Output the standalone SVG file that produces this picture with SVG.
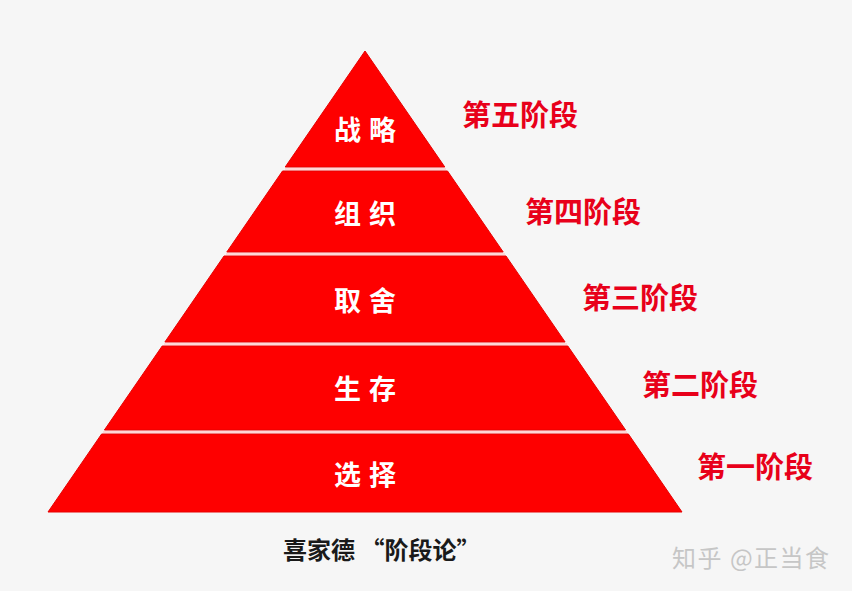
<svg xmlns="http://www.w3.org/2000/svg" width="852" height="591" viewBox="0 0 852 591">
<style>
.layer{fill:#fe0000;stroke:#e80000;stroke-width:1}
.sep{stroke:#ffd6d6;stroke-width:2}
.in{font-family:"Noto Sans CJK SC",sans-serif;font-weight:bold;font-size:27px;fill:#ffffff;text-anchor:middle;dominant-baseline:central;letter-spacing:8px}
.stage{font-family:"Noto Sans CJK SC",sans-serif;font-weight:bold;font-size:29px;fill:#e8001a;dominant-baseline:central}
.title{font-family:"Noto Sans CJK SC",sans-serif;font-weight:bold;font-size:24px;fill:#1a1a1a;dominant-baseline:central}
.wm{font-family:"Noto Sans CJK SC",sans-serif;font-size:24px;fill:#c6c6c6;dominant-baseline:central;letter-spacing:1.5px}
</style>
<rect width="852" height="591" fill="#f6f6f6"/>
<g id="layer5">
<polygon class="layer" points="365,51 444.8,167 285.2,167"/>
<text class="in" x="369" y="128">战略</text>
</g>
<g id="layer4">
<polygon class="layer" points="282.5,171 447.5,171 503.2,252 226.8,252"/>
<text class="in" x="369" y="212">组织</text>
</g>
<g id="layer3">
<polygon class="layer" points="224,256 506,256 565.1,342 164.9,342"/>
<text class="in" x="369" y="299">取舍</text>
</g>
<g id="layer2">
<polygon class="layer" points="162.2,346 567.8,346 625.6,430 104.4,430"/>
<text class="in" x="369" y="387">生存</text>
</g>
<g id="layer1">
<polygon class="layer" points="101.6,434 628.4,434 682,512 48,512"/>
<text class="in" x="369" y="473">选择</text>
</g>
<g id="separators">
<line class="sep" x1="285" y1="169" x2="446" y2="169"/>
<line class="sep" x1="226" y1="254" x2="505" y2="254"/>
<line class="sep" x1="164" y1="344" x2="567" y2="344"/>
<line class="sep" x1="103" y1="432" x2="627" y2="432"/>
</g>
<g id="stages">
<text class="stage" x="462" y="113">第五阶段</text>
<text class="stage" x="525" y="210">第四阶段</text>
<text class="stage" x="582" y="296">第三阶段</text>
<text class="stage" x="642" y="383">第二阶段</text>
<text class="stage" x="697" y="465">第一阶段</text>
</g>
<text class="title" x="283" y="548">喜家德 “阶段论”</text>
<text class="wm" x="672" y="556">知乎 @正当食</text>
</svg>
